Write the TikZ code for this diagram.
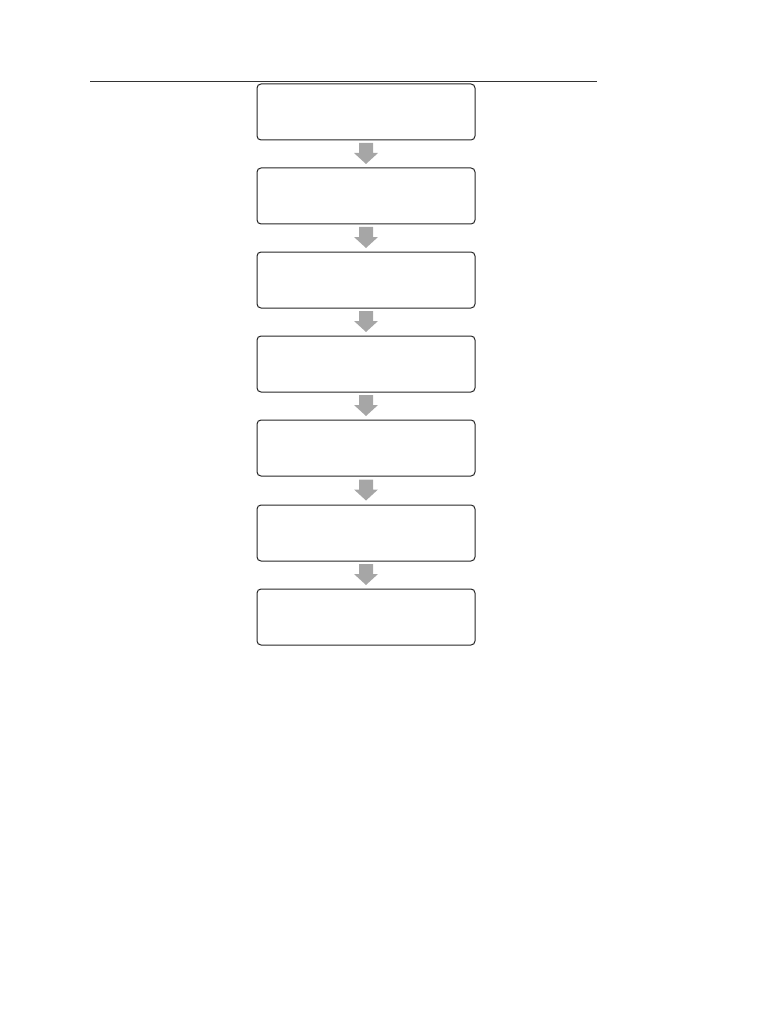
\documentclass[tikz,border=0pt]{standalone}
\usetikzlibrary{calc}
\begin{document}
\begin{tikzpicture}[x=1pt,y=-1pt,
  stepbox/.style={draw=black!85, line width=1pt, rounded corners=4pt, minimum width=218pt, minimum height=56pt, inner sep=0pt},
  flowarrow/.style={fill=black!35, draw=none}]
\useasboundingbox (0,0) rectangle (768,1024);
\draw[line width=0.9pt, black!80] (90,81) coordinate (l1) -- (597,81) coordinate (l2);
\foreach \i/\y in {1/112,2/196,3/280,4/364,5/448,6/533,7/617} {
  \node[stepbox] (b\i) at (366,\y) {};
}
\foreach \i [evaluate=\i as \j using int(\i+1)] in {1,...,6} {
  \coordinate (m\i) at ($(b\i.south)!0.5!(b\j.north)$);
  \fill[flowarrow] ([xshift=-7pt,yshift=11pt]m\i) -- ([xshift=7pt,yshift=11pt]m\i) -- ([xshift=7pt,yshift=1pt]m\i) -- ([xshift=12pt,yshift=1pt]m\i) -- ([yshift=-10pt]m\i) -- ([xshift=-12pt,yshift=1pt]m\i) -- ([xshift=-7pt,yshift=1pt]m\i) -- cycle;
}
\end{tikzpicture}
\end{document}
